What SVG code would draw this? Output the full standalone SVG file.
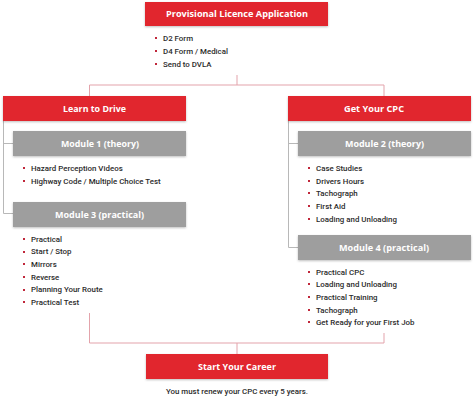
<svg xmlns="http://www.w3.org/2000/svg" width="474" height="405" viewBox="0 0 474 405">
<defs>
<filter id="sh" x="-5%" y="-20%" width="110%" height="150%">
<feDropShadow dx="0" dy="1" stdDeviation="0.8" flood-color="#000" flood-opacity="0.25"/>
</filter>
<style>
.red{fill:#e1252f;filter:url(#sh)}
.gray{fill:#9e9e9e;filter:url(#sh)}
.ht{font-family:"Open Sans","Liberation Sans",sans-serif;font-weight:700;font-size:9px;fill:#fff;text-anchor:middle}
.bt{font-family:Roboto,"Liberation Sans",sans-serif;font-weight:500;font-size:7.9px;fill:#2b2b2b}
.bl{fill:#c0273a}
.cr{fill:none;stroke:#e3a3ab;stroke-width:1}
.cg{fill:none;stroke:#b8b8b8;stroke-width:1}
</style>
</defs>
<g id="connectors">
<path class="cr" d="M237 75V85M89.5 85H384M89.5 85V96M384 85V96"/>
<path class="cr" d="M89.5 313V343H384V333M237 343V354"/>
<path class="cg" d="M3.5 121V213.5H13M3.5 143.5H13"/>
<path class="cg" d="M288.5 121V247.5H298M288.5 143.5H298"/>
</g>
<g id="provisional">
<rect class="red" x="145" y="2" width="183" height="24"/>
<text class="ht" x="237" y="17.2" textLength="142" lengthAdjust="spacingAndGlyphs">Provisional Licence Application</text>
<rect class="bl" x="155" y="37" width="2" height="2"/><text class="bt" x="163" y="40.8">D2 Form</text>
<rect class="bl" x="155" y="50" width="2" height="2"/><text class="bt" x="163" y="53.8">D4 Form / Medical</text>
<rect class="bl" x="155" y="63" width="2" height="2"/><text class="bt" x="163" y="66.8">Send to DVLA</text>
</g>
<g id="learn">
<rect class="red" x="3" y="96" width="183" height="25"/>
<text class="ht" x="94.5" y="111.5" textLength="63" lengthAdjust="spacingAndGlyphs">Learn to Drive</text>
</g>
<g id="module1">
<rect class="gray" x="13" y="131" width="173" height="25"/>
<text class="ht" x="100" y="146.5" textLength="78" lengthAdjust="spacingAndGlyphs">Module 1 (theory)</text>
<rect class="bl" x="23" y="167" width="2" height="2"/><text class="bt" x="31" y="170.8">Hazard Perception Videos</text>
<rect class="bl" x="23" y="180" width="2" height="2"/><text class="bt" x="31" y="183.8">Highway Code / Multiple Choice Test</text>
</g>
<g id="module3">
<rect class="gray" x="13" y="202" width="173" height="25"/>
<text class="ht" x="99.5" y="217.5" textLength="89" lengthAdjust="spacingAndGlyphs">Module 3 (practical)</text>
<rect class="bl" x="23" y="238" width="2" height="2"/><text class="bt" x="31" y="241.8">Practical</text>
<rect class="bl" x="23" y="251" width="2" height="2"/><text class="bt" x="31" y="254.3">Start / Stop</text>
<rect class="bl" x="23" y="263" width="2" height="2"/><text class="bt" x="31" y="266.8">Mirrors</text>
<rect class="bl" x="23" y="276" width="2" height="2"/><text class="bt" x="31" y="279.5">Reverse</text>
<rect class="bl" x="23" y="289" width="2" height="2"/><text class="bt" x="31" y="292.2">Planning Your Route</text>
<rect class="bl" x="23" y="301" width="2" height="2"/><text class="bt" x="31" y="304.9">Practical Test</text>
</g>
<g id="cpc">
<rect class="red" x="288" y="96" width="183" height="25"/>
<text class="ht" x="374" y="111.5" textLength="60" lengthAdjust="spacingAndGlyphs">Get Your CPC</text>
</g>
<g id="module2">
<rect class="gray" x="298" y="131" width="173" height="25"/>
<text class="ht" x="384.5" y="146.5" textLength="79" lengthAdjust="spacingAndGlyphs">Module 2 (theory)</text>
<rect class="bl" x="308" y="167" width="2" height="2"/><text class="bt" x="316" y="170.8">Case Studies</text>
<rect class="bl" x="308" y="180" width="2" height="2"/><text class="bt" x="316" y="183.5">Drivers Hours</text>
<rect class="bl" x="308" y="192" width="2" height="2"/><text class="bt" x="316" y="196.2">Tachograph</text>
<rect class="bl" x="308" y="205" width="2" height="2"/><text class="bt" x="316" y="208.9">First Aid</text>
<rect class="bl" x="308" y="218" width="2" height="2"/><text class="bt" x="316" y="221.6">Loading and Unloading</text>
</g>
<g id="module4">
<rect class="gray" x="298" y="235" width="173" height="25"/>
<text class="ht" x="384" y="250.5" textLength="90" lengthAdjust="spacingAndGlyphs">Module 4 (practical)</text>
<rect class="bl" x="308" y="271" width="2" height="2"/><text class="bt" x="316" y="274.8">Practical CPC</text>
<rect class="bl" x="308" y="283" width="2" height="2"/><text class="bt" x="316" y="287.1">Loading and Unloading</text>
<rect class="bl" x="308" y="296" width="2" height="2"/><text class="bt" x="316" y="299.8">Practical Training</text>
<rect class="bl" x="308" y="309" width="2" height="2"/><text class="bt" x="316" y="312.5">Tachograph</text>
<rect class="bl" x="308" y="321" width="2" height="2"/><text class="bt" x="316" y="325.1">Get Ready for your First Job</text>
</g>
<g id="career">
<rect class="red" x="146" y="354" width="182" height="25"/>
<text class="ht" x="237" y="369.5" textLength="78" lengthAdjust="spacingAndGlyphs">Start Your Career</text>
<text class="bt" x="237" y="393.6" text-anchor="middle">You must renew your CPC every 5 years.</text>
</g>
</svg>
